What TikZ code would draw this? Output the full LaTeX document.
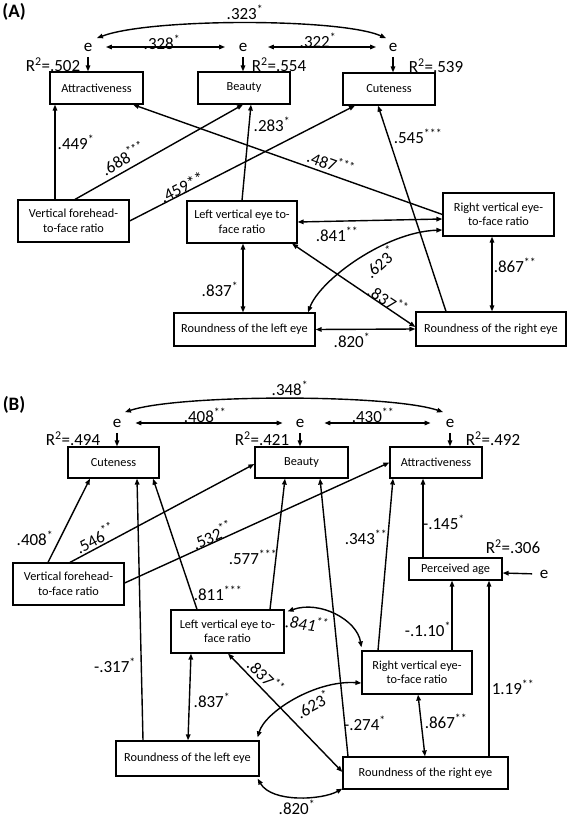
\documentclass[tikz,border=0pt]{standalone}
\usepackage{fontspec}
\setmainfont{Carlito}
\usetikzlibrary{arrows.meta}
\newcommand{\sig}[1]{\textsuperscript{#1}}
\begin{document}
\begin{tikzpicture}[x=1pt,y=-1pt,
  box/.style={draw, line width=1.2pt, align=center, font=\fontsize{12.3}{14.5}\selectfont, inner sep=0pt},
  lbl/.style={font=\fontsize{17}{19}\selectfont, inner sep=0pt},
  evar/.style={font=\fontsize{17}{19}\selectfont, inner sep=1.5pt},
  arr/.style={line width=1.4pt, -{Triangle[length=6pt,width=4.5pt]}},
  darr/.style={line width=1.4pt, {Triangle[length=6pt,width=4.5pt]}-{Triangle[length=6pt,width=4.5pt]}},
  panel/.style={font=\fontsize{19}{21}\selectfont\bfseries, inner sep=0pt}]
\useasboundingbox (0,0) rectangle (567,818);

% ================= Panel A =================
\node[panel] (pA) at (14,12) {(A)};
\node[box, minimum width=93pt, minimum height=32pt] (attrA) at (96.5,88) {Attractiveness};
\node[box, minimum width=92pt, minimum height=32pt] (beautyA) at (244,88) {Beauty};
\node[box, minimum width=92pt, minimum height=32pt] (cuteA) at (389,89) {Cuteness};
\node[box, minimum width=111pt, minimum height=42pt] (foreA) at (73.5,221) {Vertical forehead-\\to-face ratio};
\node[box, minimum width=110pt, minimum height=42pt] (leftA) at (242,222) {Left vertical eye to-\\face ratio};
\node[box, minimum width=111pt, minimum height=43pt] (rightA) at (498.5,214.5) {Right vertical eye-\\to-face ratio};
\node[box, minimum width=141pt, minimum height=33pt] (rlA) at (244.5,329.5) {Roundness of the left eye};
\node[box, minimum width=150pt, minimum height=34pt] (rrA) at (491,329) {Roundness of the right eye};

\node[evar] (eA1) at (88,47) {e};
\node[evar] (eA2) at (243,47) {e};
\node[evar] (eA3) at (393,47) {e};

\draw[arr, shorten <=4pt] (eA1.south) -- (eA1.south |- attrA.north);
\draw[arr, shorten <=4pt] (eA2.south) -- (eA2.south |- beautyA.north);
\draw[arr, shorten <=4pt] (eA3.south) -- (eA3.south |- cuteA.north);
\draw[darr, shorten <=12pt, shorten >=12pt] (eA1) -- (eA2);
\draw[darr, shorten <=19pt, shorten >=11pt] (eA2) -- (eA3);
\draw[darr] ([xshift=3pt,yshift=3pt]eA1.north east) .. controls (150,18) and (340,18) .. ([xshift=-1pt,yshift=3pt]eA3.north west);

\node[lbl] (lA1) at (245,12) {.323\sig{*}};
\node[lbl] (lA2) at (162,42) {.328\sig{*}};
\node[lbl] (lA3) at (318,40) {.322\sig{*}};
\node[lbl] (rA1) at (53,65) {R\textsuperscript{2}=.502};
\node[lbl] (rA2) at (279,65) {R\textsuperscript{2}=.554};
\node[lbl] (rA3) at (436,66) {R\textsuperscript{2}=.539};

\draw[arr] ([xshift=-18.5pt]foreA.north) -- ([xshift=-41.5pt]attrA.south);
\draw[arr] ([xshift=1.5pt]foreA.north) -- ([xshift=-1pt]beautyA.south);
\draw[arr] (foreA.east) -- ([xshift=-34pt]cuteA.south);
\draw[arr] (leftA.north) -- ([xshift=7pt]beautyA.south);
\draw[arr] (rightA.west) -- ([xshift=36.5pt]attrA.south);
\draw[arr] ([xshift=-45pt]rrA.north) -- ([xshift=-11pt]cuteA.south);
\draw[darr] (leftA.east) -- ([yshift=-4.5pt]rightA.west);
\draw[darr] ([yshift=-15.5pt]rightA.west) .. controls (385,232) and (320,280) .. ([xshift=63.5pt]rlA.north);
\draw[darr] ([xshift=50pt]leftA.south) -- ([yshift=2pt]rrA.west);
\draw[darr] ([xshift=1pt]leftA.south) -- ([xshift=-1.5pt]rlA.north);
\draw[darr] (rlA.east) -- (rrA.west);
\draw[darr] ([xshift=-6.5pt]rightA.south) -- ([xshift=1pt]rrA.north);

\node[lbl] (lA4) at (76,142) {.449\sig{*}};
\node[lbl, rotate=29.7] (lA5) at (123,158) {.688\sig{***}};
\node[lbl, rotate=27] (lA6) at (182,187) {.459**};
\node[lbl] (lA7) at (272,124) {.283\sig{*}};
\node[lbl, rotate=-19.7] (lA8) at (331,163) {.487\sig{***}};
\node[lbl] (lA9) at (418,136) {.545\sig{***}};
\node[lbl] (lA10) at (337,234) {.841\sig{**}};
\node[lbl, rotate=42] (lA11) at (380,262) {.623\sig{*}};
\node[lbl, rotate=-33] (lA12) at (388,300) {.837\sig{**}};
\node[lbl] (lA13) at (220,289) {.837\sig{*}};
\node[lbl] (lA14) at (352,340) {.820\sig{*}};
\node[lbl] (lA15) at (515,265) {.867\sig{**}};

% ================= Panel B =================
\node[panel] (pB) at (14,405) {(B)};
\node[box, minimum width=91pt, minimum height=31pt] (cuteB) at (113.5,462.5) {Cuteness};
\node[box, minimum width=93pt, minimum height=31pt] (beautyB) at (301.5,462.5) {Beauty};
\node[box, minimum width=92pt, minimum height=31pt] (attrB) at (436,462.5) {Attractiveness};
\node[box, minimum width=111pt, minimum height=42pt] (foreB) at (68.5,584) {Vertical forehead-\\to-face ratio};
\node[box, minimum width=93pt, minimum height=22pt] (ageB) at (455.5,569) {Perceived age};
\node[box, minimum width=113pt, minimum height=43pt] (leftB) at (227.5,631.5) {Left vertical eye to-\\face ratio};
\node[box, minimum width=110pt, minimum height=43pt] (rightB) at (417,672.5) {Right vertical eye-\\to-face ratio};
\node[box, minimum width=143pt, minimum height=35pt] (rlB) at (187.5,758.5) {Roundness of the left eye};
\node[box, minimum width=165pt, minimum height=32pt] (rrB) at (425.5,773) {Roundness of the right eye};

\node[evar] (eB1) at (117,423) {e};
\node[evar] (eB2) at (300,423) {e};
\node[evar] (eB3) at (450,423) {e};
\node[evar] (eB4) at (544,574) {e};

\draw[arr, shorten <=4pt] (eB1.south) -- (eB1.south |- cuteB.north);
\draw[arr, shorten <=4pt] (eB2.south) -- (eB2.south |- beautyB.north);
\draw[arr, shorten <=4pt] (eB3.south) -- (eB3.south |- attrB.north);
\draw[arr, shorten <=6pt] (eB4.west) -- ([yshift=-4pt]ageB.east);
\draw[darr, shorten <=12.5pt, shorten >=11.5pt] (eB1) -- (eB2);
\draw[darr, shorten <=18.5pt, shorten >=13.5pt] (eB2) -- (eB3);
\draw[darr] ([xshift=2pt,yshift=5pt]eB1.north east) .. controls (180,394) and (390,394) .. ([xshift=-1pt,yshift=5pt]eB3.north west);

\node[lbl] (lB1) at (290,388) {.348\sig{*}};
\node[lbl] (lB2) at (205,415) {.408\sig{**}};
\node[lbl] (lB3) at (373,415) {.430\sig{**}};
\node[lbl] (rB1) at (73,439) {R\textsuperscript{2}=.494};
\node[lbl] (rB2) at (262,439) {R\textsuperscript{2}=.421};
\node[lbl] (rB3) at (493,439) {R\textsuperscript{2}=.492};
\node[lbl] (rB4) at (513,547) {R\textsuperscript{2}=.306};

\draw[arr] ([xshift=-20.5pt]foreB.north) -- ([xshift=-23.5pt]cuteB.south);
\draw[arr] ([xshift=1.5pt]foreB.north) -- ([yshift=-1.5pt]beautyB.west);
\draw[arr] ([yshift=1pt]foreB.east) -- (attrB.west);
\draw[arr] ([xshift=-44.5pt]rlB.north) -- ([xshift=23.5pt]cuteB.south);
\draw[arr] ([xshift=-30.5pt]leftB.north) -- ([xshift=39.5pt]cuteB.south);
\draw[arr] ([xshift=42.5pt]leftB.north) -- ([xshift=-16.5pt]beautyB.south);
\draw[arr] ([xshift=-77.5pt]rrB.north) -- ([xshift=18.5pt]beautyB.south);
\draw[arr] ([xshift=-39pt]rightB.north) -- ([xshift=-43pt]attrB.south);
\draw[arr] ([xshift=-32.5pt]ageB.north) -- ([xshift=-13pt]attrB.south);
\draw[arr] ([xshift=35pt]rightB.north) -- ([xshift=-3.5pt]ageB.south);
\draw[arr] ([xshift=63.5pt]rrB.north) -- ([xshift=33.5pt]ageB.south);
\draw[darr] ([xshift=3pt,yshift=-2pt]leftB.north east) .. controls (320,600) and (357,620) .. ([yshift=3pt]rightB.north west);
\draw[darr] ([xshift=-2pt,yshift=3pt]rlB.north east) .. controls (265,712) and (315,680) .. ([yshift=-10.5pt]rightB.west);
\draw[darr] ([xshift=0.5pt]leftB.south) -- ([yshift=1pt]rrB.west);
\draw[darr] ([xshift=-36.5pt]leftB.south) -- ([xshift=0.5pt]rlB.north);
\draw[darr] ([xshift=-2pt,yshift=-2pt]rlB.south east) .. controls (272,803) and (322,800) .. ([yshift=1pt]rrB.south west);
\draw[darr] ([xshift=1pt]rightB.south) -- ([xshift=-0.5pt]rrB.north);

\node[lbl] (lB4) at (35,538) {.408\sig{*}};
\node[lbl, rotate=28] (lB5) at (95,538) {.546\sig{**}};
\node[lbl, rotate=24.5] (lB6) at (212,535) {.532\sig{**}};
\node[lbl] (lB7) at (115,665) {-.317\sig{*}};
\node[lbl] (lB8) at (218,593) {.811\sig{***}};
\node[lbl] (lB9) at (253,557) {.577\sig{***}};
\node[lbl] (lB10) at (365,723) {-.274\sig{*}};
\node[lbl] (lB11) at (366,537) {.343\sig{**}};
\node[lbl] (lB12) at (444,522) {-.145\sig{*}};
\node[lbl] (lB13) at (428,629) {-.1.10\sig{*}};
\node[lbl] (lB14) at (513,687) {1.19\sig{**}};
\node[lbl, rotate=-8] (lB15) at (307,623) {\itshape .841\sig{**}};
\node[lbl, rotate=28] (lB16) at (313,704) {.623\sig{*}};
\node[lbl, rotate=-45] (lB17) at (266,676) {.837\sig{**}};
\node[lbl] (lB18) at (212,700) {.837\sig{*}};
\node[lbl] (lB19) at (297,807) {.820\sig{*}};
\node[lbl] (lB20) at (446,721) {.867\sig{**}};
\end{tikzpicture}
\end{document}
